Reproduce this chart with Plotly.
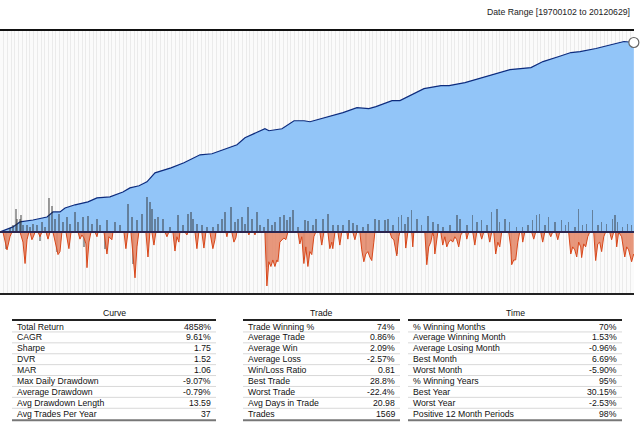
import plotly.graph_objects as go

# ---------------- data ----------------
eq_year = [1970.00, 1970.87, 1971.34, 1972.21, 1973.15, 1973.55, 1974.02, 1974.36, 1975.03, 1975.90,
           1976.50, 1977.37, 1978.24, 1978.71, 1979.32, 1979.85, 1980.39, 1981.46, 1982.33, 1983.41,
           1984.21, 1985.01, 1985.89, 1986.42, 1987.23, 1987.76, 1988.03, 1988.90, 1989.71, 1990.38,
           1990.78, 1991.92, 1992.99, 1993.93, 1994.73, 1995.20, 1996.28, 1996.81, 1997.35, 1998.42,
           1999.56, 2000.10, 2001.17, 2002.84, 2004.19, 2005.59, 2006.40, 2007.47, 2008.27, 2008.88,
           2009.95, 2011.02, 2011.83, 2012.49]
eq_value = [1.00, 1.11, 1.23, 1.28, 1.36, 1.51, 1.51, 1.64, 1.75, 1.86,
            2.02, 2.06, 2.28, 2.48, 2.59, 2.81, 3.38, 3.75, 4.16, 4.90,
            5.01, 5.44, 6.03, 6.97, 7.72, 8.39, 8.05, 8.39, 9.89, 9.89,
            9.69, 10.75, 11.68, 12.94, 12.68, 13.21, 14.96, 14.96, 16.25, 19.16,
            20.39, 20.39, 21.69, 25.06, 28.37, 29.56, 33.46, 37.11, 40.30, 41.14,
            43.77, 47.53, 50.57, 49.58]

dd_year = [1970.00, 1970.20, 1970.47, 1970.67, 1970.80, 1971.34, 1971.54, 1971.68, 1971.81, 1971.94,
           1972.01, 1972.14, 1972.28, 1972.35, 1972.55, 1972.68, 1972.81, 1973.08, 1973.22, 1973.35,
           1973.55, 1973.69, 1973.89, 1974.02, 1974.15, 1974.42, 1974.62, 1974.76, 1975.23, 1975.36,
           1975.49, 1975.63, 1975.76, 1975.83, 1975.96, 1976.10, 1976.37, 1976.50, 1976.57, 1976.97,
           1977.17, 1977.30, 1977.50, 1977.57, 1978.31, 1978.44, 1978.58, 1978.78, 1978.91, 1979.05,
           1979.18, 1979.31, 1979.78, 1979.92, 1980.05, 1980.18, 1980.32, 1980.45, 1981.06, 1981.19,
           1981.32, 1981.59, 1981.73, 1981.86, 1981.99, 1982.06, 1982.40, 1982.53, 1982.60, 1983.07,
           1983.20, 1983.33, 1983.53, 1983.67, 1983.80, 1984.07, 1984.27, 1984.41, 1984.47, 1985.14,
           1985.21, 1985.28, 1985.54, 1985.68, 1985.81, 1985.88, 1986.62, 1986.68, 1986.75, 1987.02,
           1987.09, 1987.15, 1987.76, 1987.89, 1988.02, 1988.16, 1988.29, 1988.43, 1988.56, 1988.63,
           1988.76, 1988.89, 1989.03, 1989.16, 1989.30, 1989.97, 1990.10, 1990.23, 1990.37, 1990.50,
           1990.64, 1990.77, 1990.90, 1991.04, 1991.17, 1991.44, 1991.57, 1991.71, 1991.98, 1992.11,
           1992.24, 1992.31, 1992.45, 1992.65, 1992.78, 1992.91, 1993.25, 1993.32, 1993.38, 1993.65,
           1993.79, 1993.92, 1994.12, 1994.25, 1994.39, 1994.52, 1994.66, 1994.79, 1994.92, 1995.06,
           1995.13, 1996.13, 1996.26, 1996.40, 1996.60, 1996.73, 1996.80, 1997.14, 1997.20, 1997.34,
           1997.60, 1997.67, 1997.74, 1998.48, 1998.61, 1998.74, 1998.88, 1999.01, 1999.08, 1999.15,
           1999.28, 1999.35, 1999.55, 1999.68, 1999.82, 1999.95, 2000.08, 2000.22, 2000.35, 2000.49,
           2000.62, 2000.75, 2000.89, 2001.02, 2001.22, 2001.29, 2001.42, 2001.69, 2001.83, 2001.96,
           2002.16, 2002.29, 2002.43, 2002.70, 2002.83, 2002.96, 2003.10, 2003.23, 2003.37, 2003.50,
           2003.63, 2004.10, 2004.24, 2004.30, 2004.44, 2004.57, 2004.71, 2004.84, 2004.97, 2005.04,
           2005.18, 2005.64, 2005.78, 2005.91, 2006.25, 2006.38, 2006.52, 2006.78, 2006.92, 2007.05,
           2007.25, 2007.39, 2007.52, 2008.12, 2008.26, 2008.39, 2008.53, 2008.66, 2008.79, 2008.93,
           2008.99, 2009.13, 2009.26, 2009.40, 2009.53, 2009.80, 2009.93, 2010.07, 2010.20, 2010.33,
           2010.47, 2010.60, 2010.87, 2011.00, 2011.14, 2011.27, 2011.34, 2011.47, 2011.67, 2011.88,
           2012.01, 2012.14, 2012.34, 2012.48]
dd_pct = [0, 0, -3.0, -0.8, 0, 0, -1.7, -5.3, -1.3, 0,
          0, -1.3, -0.5, 0, 0, -0.8, 0, 0, -1.2, 0,
          0, -1.7, -3.8, -3.3, 0, 0, -2.8, 0, 0, -1.2,
          -0.5, -1.0, -2.0, -6.0, -1.7, 0, 0, -0.8, 0, 0,
          -3.7, -0.8, -1.3, 0, 0, -2.8, 0, 0, -3.3, -7.7,
          -2.5, 0, 0, -4.2, 0, 0, -2.2, 0, 0, -0.8,
          0, 0, -3.2, -0.8, -1.7, 0, 0, -0.5, 0, 0,
          -2.8, 0, 0, -2.7, 0, 0, -2.8, -1.3, 0, 0,
          -0.8, 0, 0, -1.7, -1.0, 0, 0, -0.5, 0, 0,
          -0.5, 0, 0, -9.07, -5.0, -5.8, -4.7, -5.8, -4.7, -5.0,
          -1.7, -1.3, -1.0, -1.3, 0, 0, -2.0, -0.8, -5.3, -2.5,
          -5.8, -3.3, -3.8, -0.8, 0, 0, -2.2, 0, 0, -2.8,
          -1.7, -2.8, 0, 0, -2.2, 0, 0, -1.2, 0, 0,
          -1.3, 0, 0, -3.0, -5.0, -3.7, -3.3, -4.2, -4.8, -1.7,
          0, 0, -1.0, -1.3, -4.0, -0.8, 0, 0, -2.7, 0,
          0, -2.5, 0, 0, -5.5, -2.5, -1.7, 0, -0.8, -3.7,
          -1.7, 0, 0, -2.2, -0.8, -2.5, -1.7, -1.3, -1.7, -0.8,
          -1.3, -2.5, -0.5, 0, 0, -1.2, 0, 0, -2.2, 0,
          0, -1.2, 0, 0, -1.7, 0, 0, -3.7, -1.7, -2.5,
          0, 0, -2.5, -5.5, -4.7, -4.7, -1.7, 0, 0, -1.7,
          0, 0, -1.2, 0, 0, -1.7, 0, 0, -0.8, 0,
          0, -1.3, 0, 0, -3.7, -2.5, -3.0, -4.2, -1.7, -2.5,
          -4.3, -2.0, -2.5, -0.8, 0, 0, -4.8, -2.0, -1.7, -3.3,
          -0.8, 0, 0, -1.3, 0, 0, -2.5, 0, -0.8, -4.2,
          -2.5, -3.0, -5.0, -3.7]

bar_year = [1970.40, 1970.67, 1970.87, 1971.07, 1971.14, 1971.34, 1971.41, 1971.54, 1971.81, 1972.01,
            1972.21, 1972.48, 1972.68, 1972.81, 1973.02, 1973.28, 1973.48, 1973.69, 1973.82, 1973.95,
            1974.22, 1974.49, 1974.69, 1975.03, 1975.23, 1975.56, 1975.63, 1975.90, 1976.16, 1976.50,
            1976.70, 1977.04, 1977.17, 1977.71, 1978.04, 1978.58, 1978.84, 1978.91, 1979.18, 1979.51,
            1979.85, 1980.05, 1980.18, 1980.39, 1980.59, 1980.92, 1981.39, 1981.73, 1981.93, 1982.26,
            1982.60, 1982.80, 1982.93, 1983.20, 1983.53, 1983.87, 1984.27, 1984.61, 1984.87, 1985.08,
            1985.48, 1985.75, 1985.95, 1986.21, 1986.42, 1986.62, 1986.88, 1987.22, 1987.42, 1987.69,
            1987.89, 1987.96, 1988.22, 1988.43, 1988.76, 1989.03, 1989.23, 1989.43, 1989.63, 1989.97,
            1990.37, 1990.44, 1990.64, 1990.97, 1991.17, 1991.64, 1991.98, 1992.31, 1992.65, 1992.98,
            1993.38, 1993.65, 1993.92, 1994.32, 1994.52, 1994.66, 1995.13, 1995.39, 1995.80, 1996.00,
            1996.33, 1996.60, 1996.73, 1996.93, 1997.14, 1997.34, 1997.60, 1997.94, 1998.27, 1998.61,
            1998.68, 1999.01, 1999.35, 1999.68, 2000.15, 2000.62, 2000.82, 2001.29, 2001.69, 2001.96,
            2002.29, 2002.63, 2002.96, 2003.30, 2003.50, 2003.84, 2004.17, 2004.30, 2004.64, 2005.04,
            2005.38, 2005.71, 2005.98, 2006.18, 2006.52, 2006.78, 2007.19, 2007.65, 2007.92, 2008.12,
            2008.53, 2008.79, 2009.06, 2009.33, 2009.73, 2009.93, 2010.07, 2010.33, 2010.67, 2011.07,
            2011.21, 2011.41, 2011.74, 2012.08, 2012.34]
bar_pct = [-2.8, 0.7, 1.2, 3.8, 2.2, 2.2, 2.8, 1.2, 1.2, 0.8,
           1.3, 1.2, -1.5, 1.7, 0.8, 5.7, 4.3, 2.2, -3.3, 3.0,
           1.7, 2.5, 1.3, 3.3, 1.7, 2.5, -2.5, 2.7, 1.3, 2.2,
           1.2, -2.8, 2.0, 1.7, 1.2, 4.7, 2.5, -5.3, 2.0, 3.0,
           5.8, 5.0, 3.8, 2.2, 2.5, 2.2, 0.8, -2.5, 2.8, 1.2,
           3.0, 3.3, 2.2, 1.3, 1.2, 0.8, 0.8, 1.3, 2.2, 3.3,
           4.2, 1.7, 2.2, 2.5, 1.3, 4.2, 2.2, 3.3, 1.2, 0.8,
           -5.8, 2.2, 1.2, 1.7, 2.5, 2.8, 2.0, 2.5, 3.7, 0.8,
           -3.0, 2.0, 1.8, 1.2, 2.2, 2.2, 3.0, 1.2, 1.2, 1.2,
           2.0, 1.5, 1.2, 0.8, -3.0, 1.3, 2.2, 2.0, 2.0, 2.2,
           1.2, -3.7, 2.5, 2.8, 1.3, 2.5, 3.7, 2.2, 1.2, -4.0,
           2.7, 1.7, 1.3, 0.8, 1.2, 2.8, 2.2, 1.2, 2.8, 1.7,
           2.0, 1.2, 3.3, 3.8, 1.7, 2.2, 1.7, -3.7, 0.8, 0.8,
           1.2, 2.0, 2.8, 3.0, 1.2, 2.5, 1.7, 2.0, 1.2, 1.7,
           0.8, 3.8, 1.2, 1.3, 3.7, -3.3, 1.2, 1.7, 1.3, 2.2,
           2.8, 1.7, 0.8, 1.3, 1.2]

date_range_text = "Date Range [19700102 to 20120629]"

table_titles = ["Curve", "Trade", "Time"]
curve_labels = ["Total Return", "CAGR", "Sharpe", "DVR", "MAR", "Max Daily Drawdown",
                "Average Drawdown", "Avg Drawdown Length", "Avg Trades Per Year"]
curve_values = ["4858%", "9.61%", "1.75", "1.52", "1.06", "-9.07%", "-0.79%", "13.59", "37"]
trade_labels = ["Trade Winning %", "Average Trade", "Average Win", "Average Loss", "Win/Loss Ratio",
                "Best Trade", "Worst Trade", "Avg Days in Trade", "Trades"]
trade_values = ["74%", "0.86%", "2.09%", "-2.57%", "0.81", "28.8%", "-22.4%", "20.98", "1569"]
time_labels = ["% Winning Months", "Average Winning Month", "Average Losing Month", "Best Month",
               "Worst Month", "% Winning Years", "Best Year", "Worst Year", "Positive 12 Month Periods"]
time_values = ["70%", "1.53%", "-0.96%", "6.69%", "-5.90%", "95%", "30.15%", "-2.53%", "98%"]

# ---------------- layout geometry (pixels) ----------------
W, H = 640, 438
PLOT_L, PLOT_R, PLOT_T, PLOT_B = 0, 634, 30, 294


def px(x):
    return x / W


def py(y):
    return 1 - y / H


FONT = "Liberation Sans, Arial, sans-serif"
FS = 8.7

fig = go.Figure()

# baseline for the equity fill (equity = 1)
fig.add_trace(go.Scatter(x=[eq_year[0], eq_year[-1]], y=[1, 1], mode="lines",
                         line=dict(width=0, color="rgba(0,0,0,0)"), hoverinfo="skip"))
fig.add_trace(go.Scatter(x=eq_year, y=eq_value, mode="lines",
                         line=dict(color="#0d2c7e", width=1.2),
                         fill="tonexty", fillcolor="#92c5f8"))
fig.add_trace(go.Scatter(x=[eq_year[-1]], y=[eq_value[-1]], mode="markers", cliponaxis=False,
                         marker=dict(size=10, color="white", line=dict(color="#666666", width=1.2))))

# drawdown
fig.add_trace(go.Scatter(x=dd_year, y=dd_pct, yaxis="y2", mode="lines",
                         line=dict(color="#d8471a", width=1),
                         fill="tozeroy", fillcolor="rgba(228,140,110,0.9)"))
# monthly returns
fig.add_trace(go.Bar(x=bar_year, y=bar_pct, yaxis="y2", width=0.1,
                     marker=dict(color="rgba(45,45,45,0.45)", line=dict(width=0))))

shapes = []
annotations = []

# zero line
shapes.append(dict(type="line", xref="paper", yref="y2", x0=px(PLOT_L), x1=px(PLOT_R), y0=0, y1=0,
                   line=dict(color="#2c2650", width=2), layer="above"))
# chart frame lines
shapes.append(dict(type="line", xref="paper", yref="paper", x0=px(PLOT_L), x1=px(PLOT_R),
                   y0=py(PLOT_T), y1=py(PLOT_T), line=dict(color="#111111", width=2)))
shapes.append(dict(type="line", xref="paper", yref="paper", x0=px(PLOT_L), x1=px(PLOT_R),
                   y0=py(PLOT_B), y1=py(PLOT_B), line=dict(color="#222222", width=2)))

annotations.append(dict(text=date_range_text, xref="paper", yref="paper", x=px(632), y=py(12),
                        xanchor="right", yanchor="middle", showarrow=False,
                        font=dict(family=FONT, size=FS, color="#222222")))

# tables
tables = [
    (table_titles[0], curve_labels, curve_values, 12, 216),
    (table_titles[1], trade_labels, trade_values, 243, 400),
    (table_titles[2], time_labels, time_values, 408, 622),
]
HEAD_Y, HEAD_LINE_Y, ROW0_Y, ROW_DY = 313, 320, 326.5, 10.9
for title, labels, values, left, right in tables:
    annotations.append(dict(text=title, xref="paper", yref="paper", x=px((left + right) / 2), y=py(HEAD_Y),
                            xanchor="center", yanchor="middle", showarrow=False,
                            font=dict(family=FONT, size=FS, color="#111111")))
    shapes.append(dict(type="line", xref="paper", yref="paper", x0=px(left), x1=px(right),
                       y0=py(HEAD_LINE_Y), y1=py(HEAD_LINE_Y), line=dict(color="#222222", width=2)))
    for i, (lab, val) in enumerate(zip(labels, values)):
        yy = ROW0_Y + i * ROW_DY
        annotations.append(dict(text=lab, xref="paper", yref="paper", x=px(left + 3), y=py(yy),
                                xanchor="left", yanchor="middle", showarrow=False,
                                font=dict(family=FONT, size=FS, color="#111111")))
        annotations.append(dict(text=val, xref="paper", yref="paper", x=px(right - 3), y=py(yy),
                                xanchor="right", yanchor="middle", showarrow=False,
                                font=dict(family=FONT, size=FS, color="#111111")))
        if i < len(labels) - 1:
            ys = yy + ROW_DY / 2
            shapes.append(dict(type="line", xref="paper", yref="paper", x0=px(left), x1=px(right),
                               y0=py(ys), y1=py(ys), line=dict(color="#d8d8d8", width=1)))
    yb = ROW0_Y + (len(labels) - 1) * ROW_DY + ROW_DY / 2 + 1
    shapes.append(dict(type="line", xref="paper", yref="paper", x0=px(left), x1=px(right),
                       y0=py(yb), y1=py(yb), line=dict(color="#777777", width=2)))

fig.update_layout(
    width=W, height=H,
    margin=dict(l=0, r=0, t=0, b=0),
    paper_bgcolor="white", plot_bgcolor="#fbfbfb",
    showlegend=False, bargap=0,
    xaxis=dict(range=[1970.0, 2012.5], domain=[px(PLOT_L), px(PLOT_R)],
               showgrid=True, gridcolor="#ebebeb", gridwidth=1.2, tick0=1970, dtick=0.25,
               showticklabels=False, ticks="", zeroline=False, showline=False, fixedrange=True),
    yaxis=dict(type="log", range=[-0.555, 1.807], domain=[py(PLOT_B), py(PLOT_T)],
               showgrid=False, showticklabels=False, ticks="", zeroline=False, showline=False),
    yaxis2=dict(overlaying="y", range=[-10.42, 33.95], showgrid=False, showticklabels=False,
                ticks="", zeroline=False, showline=False),
    shapes=shapes, annotations=annotations,
)

fig.write_html("out.html", config={"displayModeBar": False},
               post_script="document.body.style.margin='0';document.body.style.overflow='hidden';")
